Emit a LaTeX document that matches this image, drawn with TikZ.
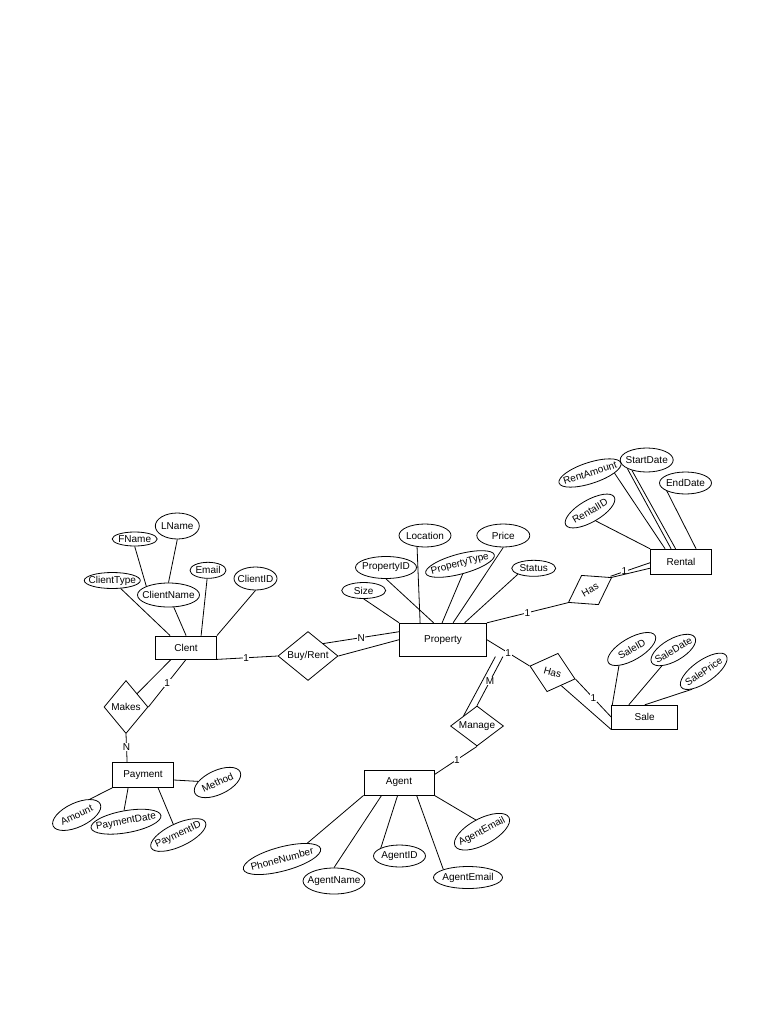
\documentclass[tikz,border=0pt]{standalone}
\usepackage{fontspec}
\setmainfont{Liberation Sans}
\usetikzlibrary{shapes.geometric}
\newcommand\zw[1]{\makebox[0pt]{#1}}
\tikzset{
  every node/.style={font=\fontsize{10}{12}\selectfont},
  ent/.style={draw, rectangle, inner sep=0pt, line width=0.8pt},
  rel/.style={draw, diamond, inner sep=0pt, line width=0.8pt},
  attr/.style={draw, ellipse, inner sep=0pt, line width=0.8pt},
  conn/.style={line width=0.8pt},
  lab/.style={fill=white, inner sep=0.6pt}
}
\begin{document}
\begin{tikzpicture}[x=1pt, y=-1pt]
\fill[white] (0,0) rectangle (768,1024);
\useasboundingbox (0,0) rectangle (768,1024);

% entities
\node[ent, minimum width=61pt, minimum height=23pt] (clent) at (186,647.5) {Clent};
\node[ent, minimum width=61pt, minimum height=25pt] (payment) at (143,775) {Payment};
\node[ent, minimum width=87pt, minimum height=33pt] (property) at (443,639.7) {Property};
\node[ent, minimum width=70pt, minimum height=25pt] (agent) at (399,782.5) {Agent};
\node[ent, minimum width=61pt, minimum height=25pt] (rental) at (681,561.7) {Rental};
\node[ent, minimum width=66pt, minimum height=24pt] (sale) at (644.7,717.2) {Sale};

% relationships
\node[rel, minimum width=60pt, minimum height=49pt] (buyrent) at (308,656) {\zw{Buy/Rent}};
\node[rel, minimum width=44pt, minimum height=53pt] (makes) at (126,707) {\zw{Makes}};
\node[rel, minimum width=53pt, minimum height=40pt] (manage) at (477,726) {\zw{Manage}};
\node[rel, minimum width=50pt, minimum height=34pt, rotate=30] (hasr) at (590,590) {\zw{Has}};
\node[rel, minimum width=47pt, minimum height=40pt, rotate=-16] (hass) at (552.5,672.5) {\zw{Has}};

% client attributes
\node[attr, minimum width=56pt, minimum height=16pt] (ctype) at (112.3,580.5) {\zw{ClientType}};
\node[attr, minimum width=62pt, minimum height=24pt] (cname) at (168.5,595) {\zw{ClientName}};
\node[attr, minimum width=45pt, minimum height=14pt] (fname) at (134.7,539) {\zw{FName}};
\node[attr, minimum width=44pt, minimum height=26pt] (lname) at (177.3,526) {\zw{LName}};
\node[attr, minimum width=36pt, minimum height=16pt] (email) at (208,570.3) {\zw{Email}};
\node[attr, minimum width=43pt, minimum height=23pt] (cid) at (255.5,578.5) {\zw{ClientID}};

% property attributes
\node[attr, minimum width=44pt, minimum height=16pt] (size) at (363.7,590.5) {\zw{Size}};
\node[attr, minimum width=61pt, minimum height=22pt] (pid) at (386,567.5) {\zw{PropertyID}};
\node[attr, minimum width=52pt, minimum height=23pt] (loc) at (425,535.5) {\zw{Location}};
\node[attr, minimum width=71pt, minimum height=20pt, rotate=15] (ptype) at (460,564) {\zw{PropertyType}};
\node[attr, minimum width=53pt, minimum height=23pt] (price) at (503.3,535.5) {\zw{Price}};
\node[attr, minimum width=44pt, minimum height=16pt] (status) at (533.7,568.3) {\zw{Status}};

% rental attributes
\node[attr, minimum width=56pt, minimum height=22pt, rotate=30] (rid) at (590,511) {\zw{RentalID}};
\node[attr, minimum width=65pt, minimum height=21pt, rotate=18] (ramt) at (590,473) {\zw{RentAmount}};
\node[attr, minimum width=53pt, minimum height=24pt] (sdate) at (646.7,460) {\zw{StartDate}};
\node[attr, minimum width=52pt, minimum height=22pt] (edate) at (685.5,483) {\zw{EndDate}};

% sale attributes
\node[attr, minimum width=54pt, minimum height=22pt, rotate=30] (saleid) at (631.7,649) {\zw{SaleID}};
\node[attr, minimum width=50pt, minimum height=22pt, rotate=30] (saledate) at (673.3,650) {\zw{SaleDate}};
\node[attr, minimum width=55pt, minimum height=22pt, rotate=35] (saleprice) at (703.7,671.3) {\zw{SalePrice}};

% payment attributes
\node[attr, minimum width=52pt, minimum height=24pt, rotate=25] (amount) at (76.7,815) {\zw{Amount}};
\node[attr, minimum width=71pt, minimum height=22pt, rotate=10] (pdate) at (126,821.7) {\zw{PaymentDate}};
\node[attr, minimum width=60pt, minimum height=23pt, rotate=25] (paymentid) at (178.3,835) {\zw{PaymentID}};
\node[attr, minimum width=50pt, minimum height=24pt, rotate=25] (method) at (217.5,782.5) {\zw{Method}};

% agent attributes
\node[attr, minimum width=80pt, minimum height=24pt, rotate=15] (phone) at (282,859) {\zw{PhoneNumber}};
\node[attr, minimum width=62pt, minimum height=26pt] (aname) at (334,881) {\zw{AgentName}};
\node[attr, minimum width=52pt, minimum height=22pt] (aid) at (399.5,856) {\zw{AgentID}};
\node[attr, minimum width=69pt, minimum height=22pt] (aemail2) at (468,877.5) {\zw{AgentEmail}};
\node[attr, minimum width=61pt, minimum height=26pt, rotate=28] (aemail1) at (482,831.7) {\zw{AgentEmail}};

% client connectors
\draw[conn] (ctype) -- ([xshift=15pt]clent.north west);
\draw[conn] (cname) -- ([xshift=31pt]clent.north west);
\draw[conn] (fname.south) -- (cname.north west);
\draw[conn] (lname.south) -- (cname.north);
\draw[conn] (email) -- ([xshift=46pt]clent.north west);
\draw[conn] (cid.south) -- (clent.north east);
\draw[conn] (clent.south east) -- node[lab, pos=0.48] (l1) {1} (buyrent.west);

% buy/rent - property
\draw[conn] (buyrent.north east) -- node[lab, pos=0.5] (l2) {N} ([yshift=8pt]property.west);
\draw[conn] (buyrent.east) -- (property.west);

% makes
\draw[conn] (makes.north east) -- ([xshift=16pt]clent.south west);
\draw[conn] (makes.east) -- node[lab, pos=0.5] (l3) {1} ([xshift=31pt]clent.south west);
\draw[conn] (makes.south) -- node[lab, pos=0.45] (l4) {N} ([xshift=15pt]payment.north west);

% payment attributes
\draw[conn] (amount.north east) -- (payment.south west);
\draw[conn] (pdate.north) -- ([xshift=16pt]payment.south west);
\draw[conn] (paymentid.north) -- ([xshift=46pt]payment.south west);
\draw[conn] (method) -- ([yshift=-5pt]payment.east);

% property attributes
\draw[conn] (size.south) -- (property.north west);
\draw[conn] (pid.south) -- ([xshift=34.5pt]property.north west);
\draw[conn] (loc.235) -- ([xshift=21pt]property.north west);
\draw[conn] (ptype.south) -- ([xshift=43pt]property.north west);
\draw[conn] (price.south) -- ([xshift=54pt]property.north west);
\draw[conn] (status.south west) -- ([xshift=65.5pt]property.north west);

% property relationships
\draw[conn] (property.north east) -- node[lab, pos=0.5] (l5) {1} (hasr.west);
\draw[conn] (property.east) -- node[lab, pos=0.5] (l6) {1} (hass.west);
\draw[conn] ([xshift=8.5pt]property.south east) -- (manage.north west);
\draw[conn] ([xshift=16pt]property.south east) -- node[lab, pos=0.5] (l7) {M} (manage.north);
\draw[conn] (manage.south) -- node[lab, pos=0.47] (l8) {1} ([yshift=-5pt]agent.north east);

% rental
\draw[conn] ([xshift=-1.5pt,yshift=1pt]hasr.east) -- node[lab, pos=0.35] (l9) {1} ([yshift=-1pt]rental.west);
\draw[conn] (hasr.east) -- ([yshift=-6.5pt]rental.west);
\draw[conn] (rid.south) -- (rental.north west);
\draw[conn] (ramt.south east) -- ([xshift=15pt]rental.north west);
\draw[conn] (sdate.204) -- ([xshift=21pt]rental.north west);
\draw[conn] (sdate.215) -- ([xshift=25.5pt]rental.north west);
\draw[conn] (edate.south west) -- ([xshift=46pt]rental.north west);

% sale
\draw[conn] (hass.east) -- node[lab, pos=0.5] (l10) {1} (sale.west);
\draw[conn] (hass.south east) -- (sale.south west);
\draw[conn] (saleid.south west) -- ([xshift=1pt]sale.north west);
\draw[conn] (saledate.south west) -- ([xshift=17.5pt]sale.north west);
\draw[conn] (saleprice.south west) -- ([xshift=33.5pt]sale.north west);

% agent
\draw[conn] (phone.north east) -- (agent.south west);
\draw[conn] (aname.north) -- ([xshift=18pt]agent.south west);
\draw[conn] (aid.north west) -- ([xshift=34pt]agent.south west);
\draw[conn] (aemail2.north west) -- ([xshift=53pt]agent.south west);
\draw[conn] (aemail1.north) -- (agent.south east);
\end{tikzpicture}
\end{document}
